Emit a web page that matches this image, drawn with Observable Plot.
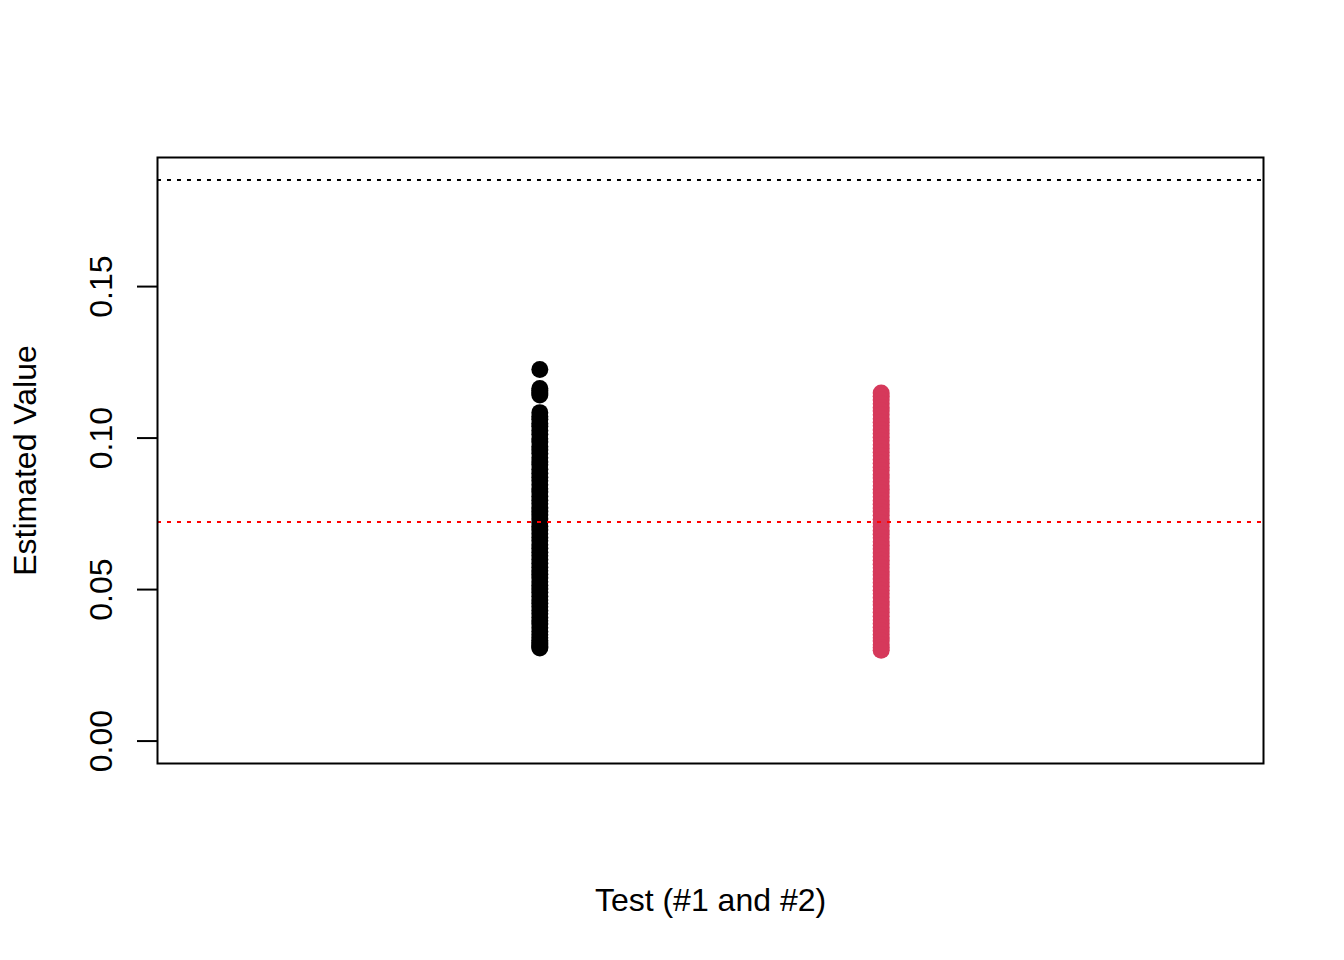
<!DOCTYPE html>
<html>
<head>
<meta charset="utf-8">
<script src="https://cdn.jsdelivr.net/npm/d3@7"></script>
<script src="https://cdn.jsdelivr.net/npm/@observablehq/plot@0.6"></script>
<style>
  html, body { margin: 0; padding: 0; background: #ffffff; }
  #chart svg { display: block; }
</style>
</head>
<body>
<div id="chart"></div>
<script>
// Test #1 (black) estimated values
const test1 = [0.1226, 0.1164, 0.1157, 0.1149, 0.1142, 0.1084, 0.1071, 0.1062, 0.1048, 0.1039,
  0.1025, 0.1013, 0.0998, 0.0987, 0.0972, 0.0961, 0.0949, 0.0935, 0.0921, 0.0912,
  0.0897, 0.0884, 0.0871, 0.0859, 0.0846, 0.0833, 0.0822, 0.0808, 0.0795, 0.0783,
  0.0771, 0.0758, 0.0746, 0.0733, 0.0721, 0.0709, 0.0697, 0.0684, 0.0672, 0.0661,
  0.0648, 0.0636, 0.0623, 0.0612, 0.0599, 0.0587, 0.0574, 0.0562, 0.0551, 0.0538,
  0.0526, 0.0514, 0.0502, 0.0491, 0.0478, 0.0466, 0.0455, 0.0443, 0.0431, 0.0420,
  0.0408, 0.0397, 0.0386, 0.0374, 0.0362, 0.0351, 0.0341, 0.0332, 0.0324, 0.0317,
  0.0311, 0.0307];
// Test #2 (red) estimated values
const test2 = [0.1149, 0.1138, 0.1126, 0.1113, 0.1101, 0.1089, 0.1077, 0.1064, 0.1052, 0.1041,
  0.1027, 0.1015, 0.1003, 0.0991, 0.0978, 0.0966, 0.0953, 0.0942, 0.0929, 0.0917,
  0.0904, 0.0893, 0.0880, 0.0868, 0.0856, 0.0843, 0.0831, 0.0819, 0.0806, 0.0794,
  0.0782, 0.0769, 0.0757, 0.0745, 0.0732, 0.0720, 0.0708, 0.0695, 0.0683, 0.0671,
  0.0658, 0.0646, 0.0634, 0.0621, 0.0609, 0.0597, 0.0584, 0.0572, 0.0560, 0.0548,
  0.0535, 0.0523, 0.0511, 0.0498, 0.0486, 0.0474, 0.0461, 0.0449, 0.0437, 0.0425,
  0.0412, 0.0400, 0.0388, 0.0376, 0.0363, 0.0352, 0.0341, 0.0330, 0.0318, 0.0309,
  0.0300];
const testIds = [1, 2];
const seriesColors = ["#000000", "#D6395B"];
const yTicks = [0.00, 0.05, 0.10, 0.15];
const refUpper = 0.1852;   // black dotted reference line
const refMean = 0.0723;    // red dotted reference line
const xLabel = "Test (#1 and #2)";
const yLabel = "Estimated Value";

const points = [
  ...test1.map(v => ({test: testIds[0], value: v})),
  ...test2.map(v => ({test: testIds[1], value: v}))
];

const font = "'Liberation Sans', Arial, Helvetica, sans-serif";

const chart = Plot.plot({
  width: 1344,
  height: 960,
  marginLeft: 157,
  marginRight: 81,
  marginTop: 157,
  marginBottom: 197,
  style: {fontFamily: font, background: "#ffffff", color: "#000000"},
  x: {domain: [-0.12, 3.12], axis: null},
  y: {domain: [-0.0074, 0.1926], axis: null},
  color: {domain: testIds, range: seriesColors},
  marks: [
    Plot.dot(points, {x: "test", y: "value", r: 8.5, fill: d => d.test, stroke: null}),
    Plot.ruleY([refUpper], {stroke: "#000000", strokeWidth: 2, strokeDasharray: "4,6"}),
    Plot.ruleY([refMean], {stroke: "#FF0000", strokeWidth: 2, strokeDasharray: "4,6"}),
    Plot.frame({stroke: "#000000", strokeWidth: 2}),
    Plot.axisY({ticks: yTicks, tickSize: 20, strokeWidth: 2, tickFormat: () => "", label: null}),
    Plot.text(yTicks, {y: d => d, text: d => d.toFixed(2), frameAnchor: "left", dx: -46,
      rotate: -90, textAnchor: "middle", lineAnchor: "bottom", fontSize: 32, fill: "#000000"}),
    Plot.text([yLabel], {text: d => d, frameAnchor: "left", dx: -122, rotate: -90,
      textAnchor: "middle", lineAnchor: "bottom", fontSize: 32, fill: "#000000"}),
    Plot.text([xLabel], {text: d => d, frameAnchor: "bottom", dy: 147,
      textAnchor: "middle", lineAnchor: "bottom", fontSize: 32, fill: "#000000"})
  ]
});
document.getElementById("chart").appendChild(chart);
</script>
</body>
</html>
